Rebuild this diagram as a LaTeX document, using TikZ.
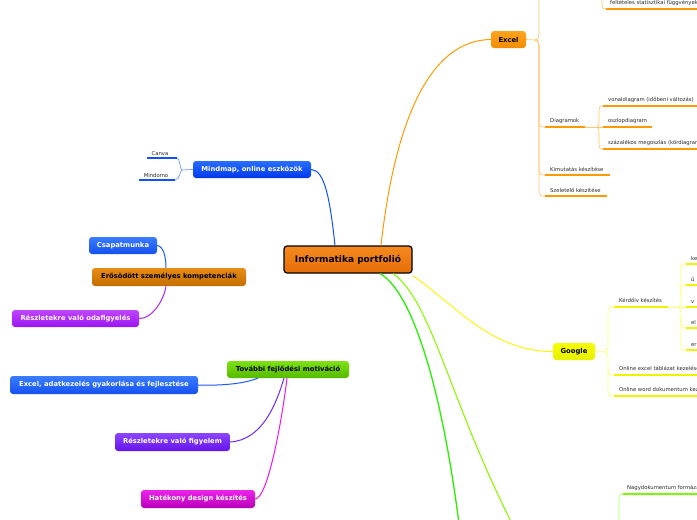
\documentclass[tikz,border=0pt]{standalone}
\usepackage{fontspec}
\setmainfont{DejaVu Sans}
\definecolor{exo}{HTML}{FF9900}
\definecolor{exl}{HTML}{FFC870}
\definecolor{goy}{HTML}{F2F200}
\definecolor{gol}{HTML}{FFFF70}
\definecolor{mmb}{HTML}{1150FF}
\definecolor{mml}{HTML}{6F9BFF}
\definecolor{leaf}{HTML}{2A2A2A}
\definecolor{cbright}{HTML}{28F000}
\definecolor{cyg}{HTML}{8CFA00}
\definecolor{ndl}{HTML}{AAFF6E}
\definecolor{ndu}{HTML}{78FA00}
\definecolor{lblue}{HTML}{1E5AFF}
\definecolor{lpurp}{HTML}{AA28FF}
\definecolor{lviol}{HTML}{6E28FF}
\definecolor{lmag}{HTML}{F014F0}
\definecolor{cenT}{HTML}{F58A1E}
\definecolor{cenB}{HTML}{E56E08}
\definecolor{blT}{HTML}{3A7DFF}
\definecolor{blB}{HTML}{1450F0}
\definecolor{mmT}{HTML}{286EFF}
\definecolor{mmB}{HTML}{0037EB}
\definecolor{erT}{HTML}{E88C14}
\definecolor{erB}{HTML}{C36E00}
\definecolor{puT}{HTML}{BE46FF}
\definecolor{puB}{HTML}{9B14F0}
\definecolor{grT}{HTML}{7DE114}
\definecolor{grB}{HTML}{55B900}
\definecolor{viT}{HTML}{8C46FF}
\definecolor{viB}{HTML}{6414EB}
\definecolor{maT}{HTML}{EB23EB}
\definecolor{maB}{HTML}{B900B9}
\definecolor{goT}{HTML}{F8FF00}
\definecolor{goB}{HTML}{E6F000}
\definecolor{exT}{HTML}{FFA41F}
\definecolor{exB}{HTML}{F28D00}
\tikzset{
  topic/.style={rounded corners=3pt, inner sep=0pt, minimum height=17pt,
    font=\bfseries\fontsize{6.8}{8}\selectfont, text=white},
  leaftext/.style={anchor=south west, inner sep=0pt, font=\fontsize{5.3}{6}\selectfont, text=leaf},
  ul/.style={line width=2.4pt},
  conn/.style={line width=1pt},
  thin/.style={line width=0.7pt},
}
\begin{document}
\begin{tikzpicture}[x=1pt,y=-1pt]
\useasboundingbox (0,0) rectangle (697,520);
\clip (0,0) rectangle (697,520);
\fill[white] (0,0) rectangle (697,520);

% ---------- nodes ----------
\node[topic, minimum width=128pt, minimum height=27pt, draw=black, line width=1.2pt,
  top color=cenT, bottom color=cenB,
  text=black, font=\bfseries\fontsize{9}{10}\selectfont] (c) at (348,259.5) {Informatika portfolió};
\node[topic, minimum width=35pt, top color=exT, bottom color=exB, text=black] (ex) at (508.5,39.5) {Excel};
\node[topic, minimum width=118pt, top color=mmT, bottom color=mmB] (mm) at (252,169.5) {Mindmap, online eszközök};
\node[topic, minimum width=154pt, minimum height=18pt, top color=erT, bottom color=erB, text=black] (er) at (169,277) {Erősödött személyes kompetenciák};
\node[topic, minimum width=68pt, top color=blT, bottom color=blB] (cs) at (123,245.5) {Csapatmunka};
\node[topic, minimum width=127pt, top color=puT, bottom color=puB] (ro) at (75.5,318.5) {Részletekre való odafigyelés};
\node[topic, minimum width=122pt, top color=grT, bottom color=grB, text=black] (tov) at (288,369.5) {További fejlődési motiváció};
\node[topic, minimum width=188pt, minimum height=18pt, top color=blT, bottom color=blB] (ea) at (104,385) {Excel, adatkezelés gyakorlása és fejlesztése};
\node[topic, minimum width=115pt, minimum height=18pt, top color=viT, bottom color=viB] (rf) at (172.5,442) {Részletekre való figyelem};
\node[topic, minimum width=114pt, minimum height=18pt, top color=maT, bottom color=maB] (hd) at (198,499) {Hatékony design készítés};
\node[topic, minimum width=42pt, top color=goT, bottom color=goB, text=black] (go) at (574,351.5) {Google};

% ---------- main connectors ----------
\draw[conn, exo] ([xshift=33pt]c.north) .. controls (395,120) and (430,40) .. (ex.west);
\draw[conn, mmb] ([xshift=-13pt]c.north) .. controls (330,200) and (325,170) .. (mm.east);
\draw[conn, yellow!95!white] ([yshift=-2pt]c.south east) .. controls (450,300) and (490,352) .. (go.west);
\coordinate (g1) at (461,540);
\coordinate (g2) at (518,535);
\draw[line width=1.3pt, cbright] ([xshift=32pt]c.south) .. controls (410,290) and (442,380) .. (g1);
\draw[line width=1.1pt, cyg] ([xshift=45pt]c.south) .. controls (432,300) and (452,410) .. (g2);

% ---------- Excel subtree ----------
\coordinate (exb) at (535,40);
\coordinate (exup) at (539,-5);
\draw[thin, exl] (ex.east) -- (exb) .. controls (539,40) and (539,36) .. (539,30) -- (exup);
\foreach \yy/\xe/\nm in {127/585/dia, 175/610/kim, 196/607/sze}{
  \coordinate (\nm a) at (545,\yy);
  \coordinate (\nm b) at (\xe,\yy);
  \draw[thin, exl] (exb) .. controls (539,40) and (539,44) .. (539,50) -- (539,\yy-6) .. controls (539,\yy) and (541,\yy) .. (\nm a);
  \draw[ul, exo] (\nm a) -- (\nm b);
}
\node[leaftext] (tdia) at (550,124) {Diagramok};
\node[leaftext] (tkim) at (550,172) {Kimutatás készítése};
\node[leaftext] (tsze) at (550,193) {Szeletelő készítése};
% Diagramok children
\coordinate (dib) at (597,127);
\draw[thin, exl] (diab) -- (dib);
\foreach \yy/\xe/\nm in {106/697/von, 127/652/osz, 149/697/szaz}{
  \coordinate (\nm a) at (603,\yy);
  \coordinate (\nm b) at (\xe,\yy);
  \draw[ul, exo] (\nm a) -- (\nm b);
}
\draw[thin, exl] (dib) .. controls (599,127) and (599,124) .. (599,118) -- (599,112) .. controls (599,106) and (600,106) .. (vona);
\draw[thin, exl] (dib) -- (osza);
\draw[thin, exl] (dib) .. controls (599,127) and (599,130) .. (599,136) -- (599,143) .. controls (599,149) and (600,149) .. (szaza);
\node[leaftext] (tvon) at (608,103) {vonaldiagram (időbeni változás)};
\node[leaftext] (tosz) at (608,124) {oszlopdiagram};
\node[leaftext] (tsza) at (608,146) {százalékos megoszlás (kördiagram)};
% top partial child
\coordinate (fta) at (606,9);
\coordinate (ftb) at (697,9);
\coordinate (ftu) at (602,-5);
\draw[thin, exl] (ftu) -- (602,3) .. controls (602,9) and (603,9) .. (fta);
\draw[ul, exo] (fta) -- (ftb);
\node[leaftext] (tft) at (610,6) {feltételes statisztikai függvények};

% ---------- Mindmap subtree ----------
\coordinate (mmb1) at (182,170);
\coordinate (cva) at (147,158);
\coordinate (cvb) at (177,158);
\coordinate (mda) at (139,180);
\coordinate (mdb) at (175,180);
\draw[thin, mml] (mm.west) -- (mmb1) .. controls (180,170) and (180,158) .. (cvb);
\draw[thin, mml] (mmb1) .. controls (180,170) and (180,180) .. (mdb);
\draw[line width=2pt, mmb] (cva) -- (cvb);
\draw[line width=2pt, mmb] (mda) -- (mdb);
\node[leaftext, anchor=south] (tcv) at (160,156) {Canva};
\node[leaftext, anchor=south] (tmd) at (156,178) {Mindomo};

% ---------- Erősödött ----------
\draw[conn, lblue] (cs.east) .. controls (163,246) and (166,256) .. ([xshift=-3pt]er.north);
\draw[conn, lpurp] (ro.east) .. controls (152,319) and (164,300) .. ([xshift=-3pt]er.south);

% ---------- További ----------
\draw[conn, lblue] (ea.east) .. controls (230,386) and (248,382) .. ([xshift=-30pt]tov.south);
\draw[conn, lviol] (rf.east) .. controls (262,440) and (276,405) .. ([xshift=-4pt]tov.south);
\draw[conn, lmag] (hd.east) .. controls (268,498) and (282,420) .. ([xshift=-1pt]tov.south);

% ---------- Google subtree ----------
\coordinate (gob) at (604,352);
\coordinate (kda) at (614,307);
\coordinate (kdb) at (668,307);
\coordinate (oea) at (614,375);
\coordinate (oeb) at (697,375);
\coordinate (owa) at (614,396);
\coordinate (owb) at (697,396);
\draw[thin, gol] (go.east) -- (gob) .. controls (608,352) and (608,348) .. (608,342) -- (608,313) .. controls (608,307) and (610,307) .. (kda);
\draw[thin, gol] (gob) .. controls (608,352) and (608,356) .. (608,362) -- (608,369) .. controls (608,375) and (610,375) .. (oea);
\draw[thin, gol] (608,369) -- (608,390) .. controls (608,396) and (610,396) .. (owa);
\draw[ul, goy] (kda) -- (kdb);
\draw[ul, goy] (oea) -- (oeb);
\draw[ul, goy] (owa) -- (owb);
\node[leaftext] (tkd) at (619,303) {Kérdőív készítés};
\node[leaftext] (toe) at (619,371) {Online excel táblázat kezelése};
\node[leaftext] (tow) at (619,392) {Online word dokumentum kezelése};
% Kérdőív children (partially visible)
\coordinate (kdc) at (678,307);
\draw[thin, gol] (kdb) -- (kdc);
\foreach \yy/\tx/\nm in {264/ke/k1, 285/ű/k2, 307/v/k3, 328/el/k4, 350/er/k5}{
  \coordinate (\nm a) at (686,\yy);
  \coordinate (\nm b) at (697,\yy);
  \draw[ul, goy] (\nm a) -- (\nm b);
  \node[leaftext] (t\nm) at (691,\yy-3) {\tx};
}
\draw[thin, gol] (kdc) .. controls (681,307) and (681,303) .. (681,297) -- (681,270) .. controls (681,264) and (682,264) .. (k1a);
\draw[thin, gol] (681,297) -- (681,291) .. controls (681,285) and (682,285) .. (k2a);
\draw[thin, gol] (kdc) -- (k3a);
\draw[thin, gol] (kdc) .. controls (681,307) and (681,311) .. (681,317) -- (681,344) .. controls (681,350) and (682,350) .. (k5a);
\draw[thin, gol] (681,317) -- (681,322) .. controls (681,328) and (682,328) .. (k4a);

% ---------- Nagydokumentum (partial) ----------
\coordinate (nda) at (623,494);
\coordinate (ndb) at (697,494);
\coordinate (ndx) at (619,530);
\draw[thin, ndl] (ndx) -- (619,500) .. controls (619,494) and (620,494) .. (nda);
\draw[ul, ndu] (nda) -- (ndb);
\node[leaftext] (tnd) at (627,491) {Nagydokumentum formázás};
\end{tikzpicture}
\end{document}
